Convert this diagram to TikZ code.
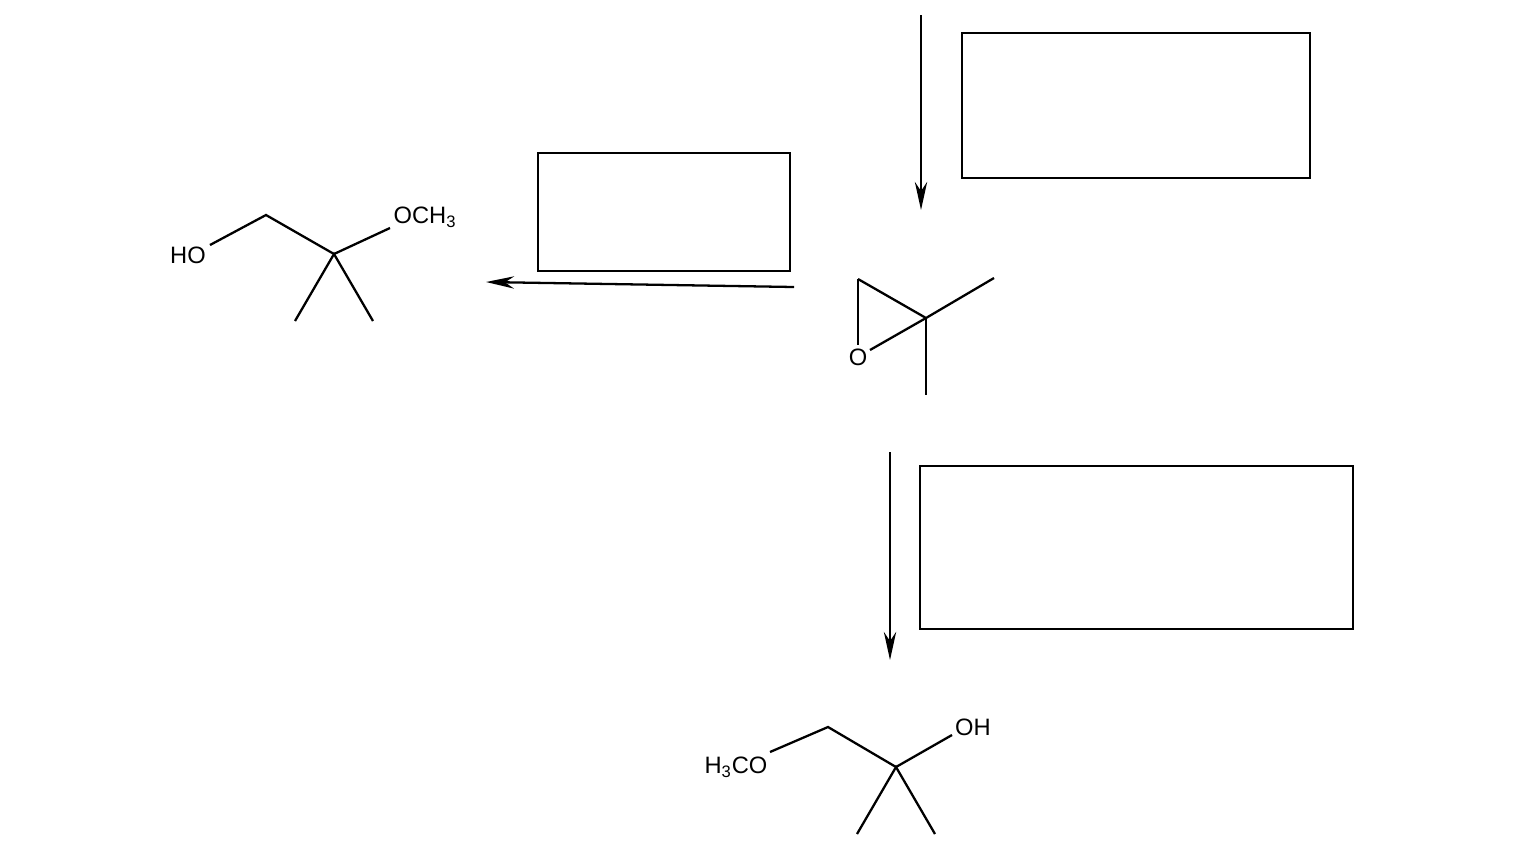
\documentclass[tikz,border=0pt]{standalone}
\usepackage{fontspec}
\setmainfont{Liberation Sans}
\usetikzlibrary{arrows.meta}
\begin{document}
\begin{tikzpicture}[x=0.02cm,y=-0.02cm,line width=1.3pt,
  box/.style={draw,line width=1.3pt},
  rarrow/.style={-{Stealth[length=16pt,width=7pt]}},
  atom/.style={font=\fontsize{13.5}{14}\selectfont,inner sep=0pt}]
\useasboundingbox (0,0) rectangle (1513,853);
% arrows
\coordinate (a1s) at (921,15); \coordinate (a1e) at (921,210);
\draw[rarrow] (a1s) -- (a1e);
\coordinate (a2s) at (794,287); \coordinate (a2e) at (486,282);
\draw[rarrow] (a2s) -- (a2e);
\coordinate (a3s) at (890,452); \coordinate (a3e) at (890,660);
\draw[rarrow] (a3s) -- (a3e);
% boxes
\draw[box] (962,33) rectangle (1310,178);
\draw[box] (538,153) rectangle (790,271);
\draw[box] (920,466) rectangle (1353,629);
% epoxide
\coordinate (e1) at (858,279); \coordinate (e2) at (926,318);
\node[atom] (eo) at (858,357) {O};
\coordinate (e3) at (994,278); \coordinate (e4) at (926,395);
\draw (e1) -- (e2) -- (e3);
\draw (e2) -- (e4);
\draw (e1) -- (858,345);
\draw (870,350) -- (e2);
% bottom molecule
\node[atom] (bm) at (736,767) {H\textsubscript{3}CO};
\node[atom] (boh) at (973,727) {OH};
\coordinate (b1) at (828,727); \coordinate (b2) at (896,767);
\coordinate (b3) at (857,834); \coordinate (b4) at (935,834);
\draw (770,752) -- (b1) -- (b2) -- (952,735);
\draw (b3) -- (b2) -- (b4);
% top-left molecule
\node[atom] (tho) at (188,255) {HO};
\node[atom] (toc) at (425,217) {OCH\textsubscript{3}};
\coordinate (t1) at (266,215); \coordinate (t2) at (334,254);
\coordinate (t3) at (295,321); \coordinate (t4) at (373,321);
\draw (210,245) -- (t1) -- (t2) -- (390,228);
\draw (t3) -- (t2) -- (t4);
\end{tikzpicture}
\end{document}
